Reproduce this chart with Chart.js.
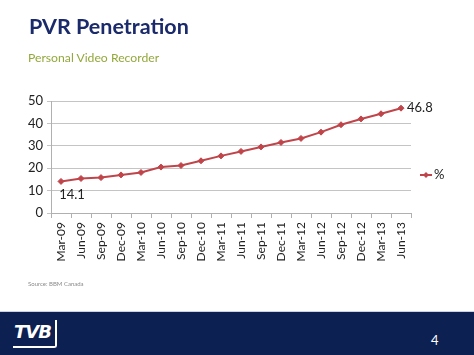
<!DOCTYPE html>
<html>
<head>
<meta charset="utf-8">
<script src="https://cdn.jsdelivr.net/npm/chart.js@4"></script>
<style>
  html, body { margin:0; padding:0; width:474px; height:355px; overflow:hidden; background:#fff; font-family: Lato, "Open Sans", sans-serif; }
  #wrap { position:absolute; left:0; top:0; width:474px; height:355px; }
  #c { position:absolute; left:0; top:0; }
  .title { position:absolute; left:29px; top:13px; font: bold 21.5px Lato, "Open Sans", sans-serif; color:#1b2a6b; }
  .sub { position:absolute; left:28px; top:50px; font: 12.2px Lato, "Open Sans", sans-serif; color:#93a83c; }
  .src { position:absolute; left:28px; top:280px; font: 6px Lato, sans-serif; color:#8a8a8a; }
  .band { position:absolute; left:0; top:311px; width:474px; height:44px; background:#0c2051; border-top:1px solid #c9d2e6; }
  .logo { position:absolute; left:13px; top:8px; width:42px; height:26px; border-right:2px solid #fff; border-bottom:2px solid #fff; border-radius:0 0 3px 0; }
  .logo span { position:absolute; left:1px; top:1px; font: italic bold 18px "DejaVu Sans", sans-serif; color:#fff; letter-spacing:-1px; }
  .pg { position:absolute; left:431px; top:20px; font: 13px Lato, sans-serif; color:#fff; }
</style>
</head>
<body>
<div id="wrap">
  <canvas id="c" width="474" height="355"></canvas>
  <div class="title">PVR Penetration</div>
  <div class="sub">Personal Video Recorder</div>
  <div class="src">Source: BBM Canada</div>
  <div class="band">
    <div class="logo"><span>TVB</span></div>
    <div class="pg">4</div>
  </div>
</div>
<script>
const categories = ["Mar-09","Jun-09","Sep-09","Dec-09","Mar-10","Jun-10","Sep-10","Dec-10","Mar-11","Jun-11","Sep-11","Dec-11","Mar-12","Jun-12","Sep-12","Dec-12","Mar-13","Jun-13"];
const seriesName = "%";
const values = [14.1,15.4,15.8,17.0,18.1,20.5,21.2,23.3,25.5,27.5,29.5,31.5,33.3,36.1,39.4,42.0,44.3,46.8];
const yTicks = [0,10,20,30,40,50];
const labelledPoints = [0, 17];

const lineColor = "#c0454a";
const fontFam = "Lato, 'Open Sans', sans-serif";

const extras = {
  id: 'extras',
  afterDatasetsDraw(chart) {
    const ctx = chart.ctx;
    const meta = chart.getDatasetMeta(0);
    ctx.save();
    ctx.font = "13px " + fontFam;
    ctx.fillStyle = "#222";
    ctx.textBaseline = "middle";
    const p0 = meta.data[labelledPoints[0]];
    ctx.textAlign = "center";
    ctx.fillText(values[labelledPoints[0]].toFixed(1), p0.x + 11, p0.y + 13);
    const p1 = meta.data[labelledPoints[1]];
    ctx.textAlign = "left";
    ctx.fillText(values[labelledPoints[1]].toFixed(1), p1.x + 6, p1.y);
    // legend
    const lx = 420, ly = 175;
    ctx.strokeStyle = lineColor; ctx.lineWidth = 2;
    ctx.beginPath(); ctx.moveTo(lx, ly); ctx.lineTo(lx + 12, ly); ctx.stroke();
    ctx.fillStyle = lineColor;
    ctx.beginPath(); ctx.moveTo(lx+6, ly-3); ctx.lineTo(lx+9, ly); ctx.lineTo(lx+6, ly+3); ctx.lineTo(lx+3, ly); ctx.closePath(); ctx.fill();
    ctx.fillStyle = "#222";
    ctx.textAlign = "left";
    ctx.fillText(seriesName, lx + 14, ly);
    ctx.restore();
  }
};

new Chart(document.getElementById('c'), {
  type: 'line',
  data: {
    labels: categories,
    datasets: [{
      label: seriesName,
      data: values,
      borderColor: lineColor,
      backgroundColor: lineColor,
      borderWidth: 2,
      pointStyle: 'rectRot',
      pointRadius: 3,
      pointBorderWidth: 1,
      tension: 0
    }]
  },
  options: {
    responsive: false,
    animation: false,
    devicePixelRatio: 1,
    layout: { padding: { left: 0, right: 63, top: 101, bottom: 92 } },
    plugins: { legend: { display: false }, tooltip: { enabled: false } },
    scales: {
      x: {
        offset: true,
        afterFit(s) { s.height = 50; },
        grid: { display: true, drawOnChartArea: false, offset: true, tickLength: 5, color: '#b0b0b0' },
        border: { color: '#b0b0b0' },
        ticks: { minRotation: 90, maxRotation: 90, autoSkip: false, color: '#222', font: { size: 12, family: fontFam }, padding: 4 }
      },
      y: {
        min: 0, max: 50,
        afterFit(s) { s.width = 51; },
        afterBuildTicks(s) { s.ticks = yTicks.map(v => ({ value: v })); },
        grid: { color: '#c4c4c4', tickLength: 4 },
        border: { color: '#b0b0b0' },
        ticks: { color: '#222', font: { size: 13, family: fontFam }, padding: 4 }
      }
    }
  },
  plugins: [extras]
});
</script>
</body>
</html>
